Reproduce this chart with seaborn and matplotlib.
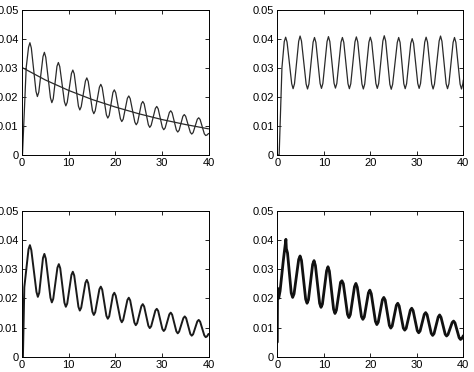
import matplotlib
matplotlib.use('Agg')
import matplotlib.pyplot as plt
import seaborn as sns

# tick positions / labels
x_ticks = [0, 10, 20, 30, 40]
x_labels = ['0', '10', '20', '30', '40']
y_ticks = [0, 0.01, 0.02, 0.03, 0.04, 0.05]
y_labels = ['0', '0.01', '0.02', '0.03', '0.04', '0.05']

# top left: oscillation (peaks, troughs and their shoulders)
tl_t = [0, 0.1, 0.9, 1.4, 1.7, 2.0, 3.0, 3.3, 3.6, 4.5, 4.8, 5.1, 6.1, 6.4, 6.7, 7.5, 7.8, 8.1,
        9.1, 9.4, 9.7, 10.6, 10.9, 11.2, 12.1, 12.4, 12.7, 13.6, 13.9, 14.2, 15.1, 15.4, 15.7,
        16.6, 16.9, 17.2, 18.1, 18.4, 18.7, 19.5, 19.8, 20.1, 21.1, 21.4, 21.7, 22.6, 22.9, 23.2,
        24.2, 24.5, 24.8, 25.6, 25.9, 26.2, 27.1, 27.4, 27.7, 28.6, 28.9, 29.2, 30.1, 30.4, 30.7,
        31.6, 31.9, 32.2, 33.1, 33.4, 33.7, 34.5, 34.8, 35.1, 36.1, 36.4, 36.7, 37.6, 37.9, 38.2,
        39.1, 39.4, 39.7, 40]
tl_y = [0, 0, 0.030, 0.0370, 0.0386, 0.0368, 0.0219, 0.0201, 0.0216, 0.0338, 0.0353, 0.0336,
        0.0197, 0.0180, 0.0193, 0.0305, 0.0318, 0.0304, 0.0183, 0.0169, 0.0181, 0.0280, 0.0292,
        0.0279, 0.0168, 0.0155, 0.0166, 0.0254, 0.0265, 0.0253, 0.0154, 0.0142, 0.0152, 0.0233,
        0.0243, 0.0232, 0.0138, 0.0127, 0.0136, 0.0215, 0.0224, 0.0214, 0.0125, 0.0115, 0.0123,
        0.0195, 0.0203, 0.0194, 0.0113, 0.0104, 0.0112, 0.0176, 0.0184, 0.0176, 0.0104, 0.0095,
        0.0102, 0.0160, 0.0167, 0.0159, 0.0095, 0.0087, 0.0093, 0.0146, 0.0152, 0.0145, 0.0086,
        0.0079, 0.0085, 0.0133, 0.0139, 0.0133, 0.0078, 0.0072, 0.0077, 0.0123, 0.0128, 0.0122,
        0.0073, 0.0067, 0.0069, 0.0074]
# top left: smooth decaying curve
trend_t = [0, 5, 10, 15, 20, 25, 30, 35, 40]
trend_y = [0.0301, 0.0258, 0.0222, 0.0191, 0.0165, 0.0142, 0.0122, 0.0105, 0.0090]

# top right: steady oscillation
tr_t = [0, 0.4, 1.0, 1.5, 1.8, 2.1, 3.1, 3.4, 3.7, 4.6, 4.9, 5.2, 6.2, 6.5, 6.8, 7.7, 8.0, 8.3,
        9.2, 9.5, 9.8, 10.7, 11.0, 11.3, 12.2, 12.5, 12.8, 13.7, 14.0, 14.3, 15.2, 15.5, 15.8,
        16.7, 17.0, 17.3, 18.2, 18.5, 18.8, 19.7, 20.0, 20.3, 21.2, 21.5, 21.8, 22.7, 23.0, 23.3,
        24.2, 24.5, 24.8, 25.8, 26.1, 26.4, 27.2, 27.5, 27.8, 28.7, 29.0, 29.3, 30.2, 30.5, 30.8,
        31.7, 32.0, 32.3, 33.2, 33.5, 33.8, 34.8, 35.1, 35.4, 36.3, 36.6, 36.9, 37.8, 38.1, 38.4,
        39.3, 39.6, 39.9, 40]
tr_y = [0, 0, 0.030, 0.0390, 0.0405, 0.0388, 0.0245, 0.0228, 0.0245, 0.0391, 0.0409, 0.0392,
        0.0244, 0.0227, 0.0244, 0.0388, 0.0404, 0.0387, 0.0246, 0.0229, 0.0246, 0.0390, 0.0407,
        0.0390, 0.0247, 0.0230, 0.0246, 0.0388, 0.0404, 0.0387, 0.0245, 0.0228, 0.0245, 0.0389,
        0.0406, 0.0389, 0.0244, 0.0227, 0.0244, 0.0388, 0.0405, 0.0388, 0.0246, 0.0229, 0.0246,
        0.0392, 0.0410, 0.0392, 0.0243, 0.0226, 0.0243, 0.0387, 0.0404, 0.0387, 0.0245, 0.0228,
        0.0245, 0.0384, 0.0400, 0.0384, 0.0246, 0.0229, 0.0246, 0.0388, 0.0405, 0.0388, 0.0244,
        0.0227, 0.0244, 0.0392, 0.0409, 0.0391, 0.0245, 0.0228, 0.0245, 0.0387, 0.0404, 0.0387,
        0.0244, 0.0227, 0.0245, 0.0258]

# bottom left
bl_t = [0, 0.2, 0.5, 1.4, 1.7, 2.0, 3.1, 3.4, 3.7, 4.5, 4.8, 5.1, 6.1, 6.4, 6.7, 7.6, 7.9, 8.2,
        9.1, 9.4, 9.7, 10.6, 10.9, 11.2, 12.1, 12.4, 12.7, 13.6, 13.9, 14.2, 15.1, 15.4, 15.7,
        16.6, 16.9, 17.2, 18.1, 18.4, 18.7, 19.5, 19.8, 20.1, 21.1, 21.4, 21.7, 22.6, 22.9, 23.2,
        24.1, 24.4, 24.7, 25.6, 25.9, 26.2, 27.1, 27.4, 27.7, 28.6, 28.9, 29.2, 30.1, 30.4, 30.7,
        31.6, 31.9, 32.2, 33.1, 33.4, 33.7, 34.6, 34.9, 35.2, 36.1, 36.4, 36.7, 37.6, 37.9, 38.2,
        39.1, 39.4, 39.7, 40]
bl_y = [0.0231, 0, 0.0238, 0.0368, 0.0382, 0.0365, 0.0222, 0.0205, 0.0219, 0.0338, 0.0352,
        0.0336, 0.0202, 0.0186, 0.0198, 0.0305, 0.0317, 0.0303, 0.0185, 0.0171, 0.0182, 0.0280,
        0.0291, 0.0278, 0.0171, 0.0158, 0.0168, 0.0253, 0.0263, 0.0252, 0.0154, 0.0143, 0.0152,
        0.0231, 0.0240, 0.0230, 0.0140, 0.0130, 0.0138, 0.0211, 0.0219, 0.0209, 0.0128, 0.0118,
        0.0126, 0.0194, 0.0202, 0.0193, 0.0117, 0.0108, 0.0115, 0.0173, 0.0180, 0.0172, 0.0106,
        0.0098, 0.0104, 0.0158, 0.0164, 0.0157, 0.0095, 0.0088, 0.0094, 0.0145, 0.0151, 0.0144,
        0.0087, 0.0080, 0.0086, 0.0132, 0.0138, 0.0132, 0.0078, 0.0072, 0.0077, 0.0121, 0.0126,
        0.0120, 0.0073, 0.0067, 0.0070, 0.0078]

# bottom right (noisy)
br_t = [0, 0.05, 0.3, 0.6, 1.3, 1.6, 1.85, 1.95, 2.2, 3.0, 3.3, 3.6, 4.6, 4.9, 5.2, 6.1, 6.4,
        6.7, 7.6, 7.9, 8.2, 9.1, 9.4, 9.7, 10.6, 10.9, 11.2, 12.1, 12.4, 12.7, 13.6, 13.9, 14.2,
        15.1, 15.4, 15.7, 16.6, 16.9, 17.2, 18.1, 18.4, 18.7, 19.6, 19.9, 20.2, 21.1, 21.4, 21.7,
        22.6, 22.9, 23.2, 24.1, 24.4, 24.7, 25.6, 25.9, 26.2, 27.1, 27.4, 27.7, 28.6, 28.9, 29.2,
        30.1, 30.4, 30.7, 31.6, 31.9, 32.2, 33.1, 33.4, 33.7, 34.6, 34.9, 35.2, 36.1, 36.4, 36.7,
        37.6, 37.9, 38.2, 39.1, 39.4, 39.7, 40]
br_y = [0.005, 0.0235, 0.020, 0.0225, 0.033, 0.037, 0.0402, 0.037, 0.0355, 0.0218, 0.0203,
        0.0215, 0.0333, 0.0345, 0.0330, 0.0197, 0.0183, 0.0195, 0.0316, 0.0329, 0.0312, 0.0183,
        0.0169, 0.0180, 0.0294, 0.0308, 0.0293, 0.0163, 0.0148, 0.0159, 0.0255, 0.0260, 0.0250,
        0.0145, 0.0134, 0.0144, 0.0240, 0.0251, 0.0238, 0.0137, 0.0128, 0.0136, 0.0219, 0.0228,
        0.0216, 0.0121, 0.0110, 0.0118, 0.0195, 0.0203, 0.0194, 0.0107, 0.0098, 0.0105, 0.0176,
        0.0183, 0.0174, 0.0098, 0.0091, 0.0097, 0.0159, 0.0166, 0.0158, 0.0089, 0.0082, 0.0088,
        0.0145, 0.0151, 0.0144, 0.0080, 0.0073, 0.0079, 0.0136, 0.0143, 0.0135, 0.0077, 0.0071,
        0.0076, 0.0117, 0.0122, 0.0116, 0.0065, 0.0059, 0.0063, 0.0072]

sns.set_theme(style='ticks')
plt.rcParams['font.family'] = ['Liberation Sans', 'DejaVu Sans']
plt.rcParams['xtick.direction'] = 'in'
plt.rcParams['ytick.direction'] = 'in'

fig = plt.figure(figsize=(4.74, 3.72), dpi=100)
fig.patch.set_facecolor('white')

boxes = [
    [0.0464, 0.5833, 0.3935, 0.391],
    [0.585, 0.5833, 0.3925, 0.391],
    [0.0464, 0.0411, 0.3935, 0.3925],
    [0.585, 0.0411, 0.3925, 0.3925],
]
axes = [fig.add_axes(b) for b in boxes]

sns.lineplot(x=tl_t, y=tl_y, ax=axes[0], color='#2a2a2a', lw=0.9, estimator=None, sort=False)
sns.lineplot(x=trend_t, y=trend_y, ax=axes[0], color='#2a2a2a', lw=0.9, estimator=None, sort=False)
sns.lineplot(x=tr_t, y=tr_y, ax=axes[1], color='#2a2a2a', lw=0.9, estimator=None, sort=False)
sns.lineplot(x=bl_t, y=bl_y, ax=axes[2], color='#1a1a1a', lw=1.4, estimator=None, sort=False)
sns.lineplot(x=br_t, y=br_y, ax=axes[3], color='#111111', lw=2.0, estimator=None, sort=False)

for ax in axes:
    ax.set_xlim(0, 40)
    ax.set_ylim(0, 0.05)
    ax.set_xticks(x_ticks)
    ax.set_xticklabels(x_labels)
    ax.set_yticks(y_ticks)
    ax.set_yticklabels(y_labels)
    ax.tick_params(axis='both', labelsize=8, length=3, width=0.6, color='black',
                   pad=2.5, top=True, right=True, labelcolor='black')
    for s in ax.spines.values():
        s.set_visible(True)
        s.set_color('black')
        s.set_linewidth(0.7)
    ax.set_facecolor('white')
    ax.set_xlabel('')
    ax.set_ylabel('')

fig.savefig('out.png', dpi=100, facecolor='white')
